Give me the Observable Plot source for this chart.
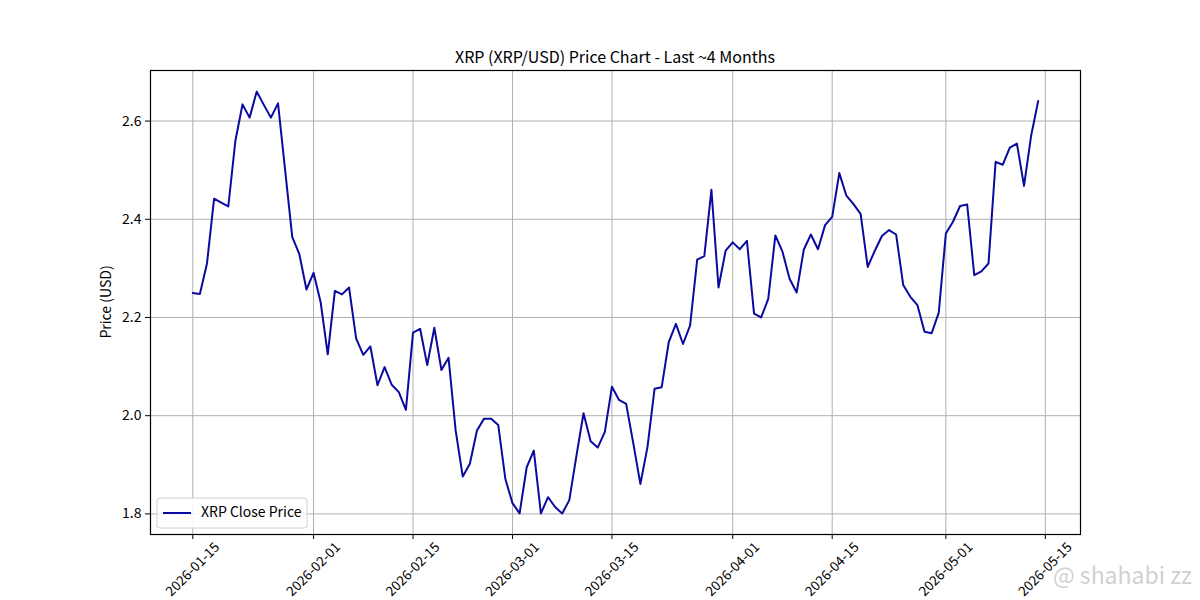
<!DOCTYPE html>
<html>
<head>
<meta charset="utf-8">
<script src="https://cdn.jsdelivr.net/npm/d3@7"></script>
<script src="https://cdn.jsdelivr.net/npm/@observablehq/plot@0.6"></script>
<style>
  html, body { margin: 0; padding: 0; background: #fff; }
  #chart { width: 1200px; height: 600px; }
  svg { font-family: "Noto Sans CJK SC", "Noto Sans", sans-serif; }
</style>
</head>
<body>
<div id="chart"></div>
<script>
const titleText = "XRP (XRP/USD) Price Chart - Last ~4 Months";
const yLabel = "Price (USD)";
const seriesName = "XRP Close Price";
const startDate = "2026-01-15";
const endDate = "2026-05-14";
const closePrices = [
  2.250, 2.248, 2.310, 2.442, 2.434, 2.426, 2.560, 2.634, 2.607, 2.660,
  2.633, 2.607, 2.636, 2.500, 2.364, 2.329, 2.257, 2.291, 2.231, 2.125,
  2.254, 2.247, 2.261, 2.157, 2.124, 2.141, 2.062, 2.099, 2.063, 2.048,
  2.012, 2.169, 2.177, 2.103, 2.179, 2.093, 2.118, 1.970, 1.876, 1.902,
  1.970, 1.994, 1.994, 1.981, 1.871, 1.822, 1.801, 1.895, 1.929, 1.801,
  1.834, 1.814, 1.801, 1.828, 1.918, 2.005, 1.948, 1.935, 1.967, 2.059,
  2.032, 2.024, 1.944, 1.861, 1.936, 2.055, 2.058, 2.150, 2.187, 2.146,
  2.184, 2.318, 2.325, 2.460, 2.261, 2.336, 2.353, 2.339, 2.356, 2.208,
  2.200, 2.238, 2.367, 2.334, 2.279, 2.251, 2.338, 2.369, 2.339, 2.388,
  2.405, 2.494, 2.448, 2.431, 2.411, 2.303, 2.336, 2.366, 2.378, 2.369,
  2.266, 2.242, 2.225, 2.171, 2.168, 2.210, 2.371, 2.395, 2.427, 2.430,
  2.286, 2.294, 2.310, 2.517, 2.511, 2.546, 2.554, 2.468, 2.570, 2.641
];
const xTickLabels = ["2026-01-15", "2026-02-01", "2026-02-15", "2026-03-01", "2026-03-15",
                     "2026-04-01", "2026-04-15", "2026-05-01", "2026-05-15"];
const yTickValues = [1.8, 2.0, 2.2, 2.4, 2.6];
const watermark = "@ shahabi zz";

const dates = d3.utcDay.range(new Date(startDate), d3.utcDay.offset(new Date(endDate), 1));
const data = dates.map((d, i) => ({date: d, close: closePrices[i]}));
const xTicks = xTickLabels.map(s => new Date(s));

// matplotlib-like 5% margins
const [x0, x1] = d3.extent(dates);
const xPad = (x1 - x0) * 0.05;
const [y0, y1] = d3.extent(closePrices);
const yPad = (y1 - y0) * 0.05;

const lineColor = "#0a0aa0";

const chart = Plot.plot({
  width: 1200,
  height: 600,
  marginLeft: 150,
  marginRight: 120,
  marginTop: 70,
  marginBottom: 66,
  style: {fontFamily: "'Noto Sans CJK SC', 'Noto Sans', sans-serif", fontSize: "14px", color: "#000", background: "#fff"},
  x: {type: "utc", domain: [new Date(+x0 - xPad), new Date(+x1 + xPad)]},
  y: {domain: [y0 - yPad, y1 + yPad]},
  marks: [
    Plot.gridX(xTicks, {stroke: "#b0b0b0", strokeOpacity: 1, strokeWidth: 1}),
    Plot.gridY(yTickValues, {stroke: "#b0b0b0", strokeOpacity: 1, strokeWidth: 1}),
    Plot.lineY(data, {x: "date", y: "close", stroke: lineColor, strokeWidth: 2}),
    Plot.axisY(yTickValues, {tickSize: 5, tickPadding: 4, tickFormat: d3.format(".1f"), label: null, fontSize: 14}),
    Plot.axisX(xTicks, {tickSize: 5, tickFormat: () => "", label: null}),
    Plot.text(xTicks, {x: d => d, frameAnchor: "bottom", text: d => d3.utcFormat("%Y-%m-%d")(d),
      rotate: -45, textAnchor: "middle", lineAnchor: "middle", dy: 35, fontSize: 13.5, fill: "#000"}),
    Plot.frame({stroke: "#000", strokeWidth: 1.2})
  ]
});

document.getElementById("chart").appendChild(chart);

const svg = d3.select(chart);
svg.append("text")
  .attr("x", 615).attr("y", 63)
  .attr("text-anchor", "middle")
  .attr("font-size", 16)
  .attr("fill", "#000")
  .text(titleText);

svg.append("text")
  .attr("transform", "translate(107,302) rotate(-90)")
  .attr("text-anchor", "middle")
  .attr("dominant-baseline", "middle")
  .attr("font-size", 14)
  .attr("fill", "#000")
  .text(yLabel);

// legend
const lg = svg.append("g").attr("transform", "translate(157,498)");
lg.append("rect").attr("width", 150).attr("height", 30).attr("rx", 3)
  .attr("fill", "#fff").attr("fill-opacity", 0.85).attr("stroke", "#d0d0d0");
lg.append("line").attr("x1", 6).attr("x2", 34).attr("y1", 15).attr("y2", 15)
  .attr("stroke", lineColor).attr("stroke-width", 2);
lg.append("text").attr("x", 44).attr("y", 15)
  .attr("text-anchor", "start")
  .attr("dominant-baseline", "middle")
  .attr("font-size", 14).attr("fill", "#000").text(seriesName);

// watermark
svg.append("text")
  .attr("x", 1192).attr("y", 584)
  .attr("text-anchor", "end")
  .attr("font-size", 23)
  .attr("fill", "#c8c8c8")
  .attr("fill-opacity", 0.85)
  .text(watermark);
</script>
</body>
</html>
